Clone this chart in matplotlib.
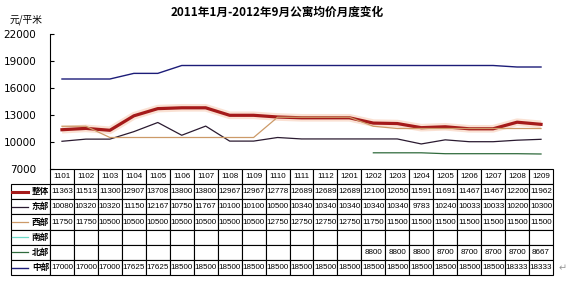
import matplotlib
matplotlib.use("Agg")
import matplotlib.pyplot as plt
import numpy as np

months = ["1101", "1102", "1103", "1104", "1105", "1106", "1107", "1108", "1109", "1110", "1111", "1112",
          "1201", "1202", "1203", "1204", "1205", "1206", "1207", "1208", "1209"]
series_names = ["整体", "东部", "西部", "南部", "北部", "中部"]
zhengti = [11363, 11513, 11300, 12907, 13708, 13800, 13800, 12967, 12967, 12778, 12689, 12689,
           12689, 12100, 12050, 11591, 11691, 11467, 11467, 12200, 11962]
dongbu = [10080, 10320, 10320, 11150, 12167, 10750, 11767, 10100, 10100, 10500, 10340, 10340,
          10340, 10340, 10340, 9783, 10240, 10033, 10033, 10200, 10300]
xibu = [11750, 11750, 10500, 10500, 10500, 10500, 10500, 10500, 10500, 12750, 12750, 12750,
        12750, 11750, 11500, 11500, 11500, 11500, 11500, 11500, 11500]
nanbu = [None] * 21
beibu = [None] * 13 + [8800, 8800, 8800, 8700, 8700, 8700, 8700, 8667]
zhongbu = [17000, 17000, 17000, 17625, 17625, 18500, 18500, 18500, 18500, 18500, 18500, 18500,
           18500, 18500, 18500, 18500, 18500, 18500, 18500, 18333, 18333]
yticks = [7000, 10000, 13000, 16000, 19000, 22000]

all_series = [zhengti, dongbu, xibu, nanbu, beibu, zhongbu]
colors = ["#A51A1A", "#2A1A30", "#CC9A68", "#6ED9C8", "#2F6A3C", "#1C1C78"]
widths = [2.3, 0.9, 0.9, 0.9, 0.9, 1.0]

cjk = ["Noto Sans CJK SC", "DejaVu Sans"]
narrow = ["Liberation Sans Narrow", "Liberation Sans", "DejaVu Sans"]

fig = plt.figure(figsize=(5.74, 2.92), dpi=100)
fig.patch.set_facecolor("white")
ax = fig.add_axes([50 / 574, 1 - 169 / 292, 503 / 574, 135 / 292])

x = np.arange(len(months))
for vals, c, lw, name in zip(all_series, colors, widths, series_names):
    y = np.array([np.nan if v is None else v for v in vals], dtype=float)
    if name == "整体":
        ax.plot(x, y, color="#F6C9B0", lw=5.5, alpha=0.55, solid_capstyle="butt", zorder=2)
    ax.plot(x, y, color=c, lw=lw, zorder=3)

ax.set_xlim(-0.5, len(months) - 0.5)
ax.set_ylim(7000, 22000)
ax.set_yticks(yticks)
ax.set_yticklabels([str(v) for v in yticks], fontsize=7.5, family="DejaVu Sans")
ax.tick_params(axis="y", direction="in", length=3, width=0.8, pad=10)
ax.set_xticks([])
for s in ["top", "right", "bottom"]:
    ax.spines[s].set_visible(False)
ax.spines["left"].set_linewidth(0.8)

# data table
def fmt(v):
    return "" if v is None else str(v)

cell_text = [[""] + months]
for name, vals in zip(series_names, all_series):
    cell_text.append([name] + [fmt(v) for v in vals])

col_w = [39 / 503] + [1 / 21] * 21
tbl = ax.table(cellText=cell_text, colWidths=col_w, cellLoc="center",
               bbox=[-39 / 503, -106 / 135, 1 + 39 / 503, 106 / 135])
tbl.auto_set_font_size(False)
for (r, c), cell in tbl.get_celld().items():
    cell.set_linewidth(0.8)
    cell.PAD = 0.02
    t = cell.get_text()
    if c == 0:
        t.set_fontfamily(cjk)
        t.set_fontsize(6.2)
        t.set_fontweight("bold")
        t.set_horizontalalignment("right")
        cell._loc = "right"
    else:
        t.set_fontfamily(narrow)
        t.set_fontsize(5.8)
    if r == 0 and c == 0:
        cell.visible_edges = ""

# legend swatches in row-label cells
for i, (c, lw) in enumerate(zip(colors, widths)):
    ymid = 184 + i * 15.2 + 7.6
    yax = (169 - ymid) / 135
    ax.plot([(12 - 50) / 503, (28 - 50) / 503], [yax, yax], transform=ax.transAxes,
            color=c, lw=lw if i > 0 else 2.2, clip_on=False, zorder=5)

fig.text(0.483, 0.957, "2011年1月-2012年9月公寓均价月度变化", ha="center", va="center",
         fontsize=8.4, fontweight="bold", family=cjk)
fig.text(10 / 574, 1 - 20 / 292, "元/平米", ha="left", va="center", fontsize=7, family=cjk)
fig.text(563 / 574, 1 - 268 / 292, "↵", ha="center", va="center", fontsize=7,
         color="#999999", family="DejaVu Sans")

fig.savefig("out.png", dpi=100, facecolor="white")
